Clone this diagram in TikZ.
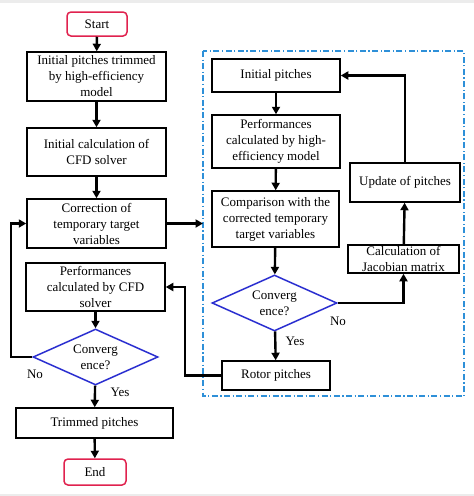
\documentclass[tikz,border=0pt]{standalone}
\usepackage{fontspec}
\setmainfont{Liberation Serif}
\usetikzlibrary{shapes.geometric,arrows.meta}
\definecolor{termred}{HTML}{E0224E}
\definecolor{decblue}{HTML}{2A2ED0}
\definecolor{dashblue}{HTML}{2E90D8}
\begin{document}
\begin{tikzpicture}[x=1pt,y=-1pt,
  txt/.style={font=\fontsize{13}{16}\selectfont},
  box/.style={txt, draw, line width=1.5pt, align=center, inner sep=1pt},
  term/.style={box, draw=termred, rounded corners=4pt},
  dec/.style={txt, diamond, draw=decblue, line width=1.5pt, aspect=2.2, inner sep=0pt, align=center, minimum width=125pt, minimum height=56pt},
  arr/.style={-{Triangle[length=7.5pt,width=8pt]}, line width=2.4pt, line join=miter},
  lbl/.style={txt, inner sep=0pt},
  dashframe/.style={draw=dashblue, line width=1.1pt, dash pattern=on 6pt off 2.5pt on 1.2pt off 2.5pt}
]
\useasboundingbox (0,0) rectangle (474,496);
\fill[gray!15] (0,0) rectangle (474,2.5);
\fill[gray!15] (0,493.5) rectangle (474,496);

% dashed frame
\draw[dashframe] (203,51) rectangle (464,396);
\coordinate (frameL) at (203,224);

% left column
\node[term, minimum width=60pt, minimum height=24pt] (start) at (97,24) {Start};
\node[box, minimum width=139pt, minimum height=49pt] (b1) at (96.5,76.5) {Initial pitches trimmed\\by high-efficiency\\model};
\node[box, minimum width=139pt, minimum height=48pt] (b2) at (96.5,152) {Initial calculation of\\CFD solver};
\node[box, minimum width=139pt, minimum height=49pt] (b3) at (96.5,223.5) {Correction of\\temporary target\\variables};
\node[box, minimum width=139pt, minimum height=48pt] (cfd) at (95.5,287) {Performances\\calculated by CFD\\solver};
\node[dec] (d1) at (95.5,357) {Converg\\ence?};
\node[box, minimum width=157pt, minimum height=30pt] (trim) at (94.5,423) {Trimmed pitches};
\node[term, minimum width=62pt, minimum height=26pt] (end) at (95,472) {End};

% right column
\node[box, minimum width=128pt, minimum height=33pt] (ip) at (276,75.5) {Initial pitches};
\node[box, minimum width=128pt, minimum height=53pt] (perf) at (276,141.5) {Performances\\calculated by high-\\efficiency model};
\node[box, minimum width=127pt, minimum height=56pt] (comp) at (275.5,219) {Comparison with the\\corrected temporary\\target variables};
\node[dec] (d2) at (274.5,303) {Converg\\ence?};
\node[box, minimum width=108pt, minimum height=29pt] (rotor) at (276,375.5) {Rotor pitches};
\node[box, minimum width=110pt, minimum height=39pt] (upd) at (405,182.5) {Update of pitches};
\node[box, minimum width=111pt, minimum height=28pt] (jac) at (403.5,259) {Calculation of\\Jacobian matrix};

% labels
\node[lbl] (no1) at (35,374) {No};
\node[lbl] (yes1) at (120,392) {Yes};
\node[lbl] (no2) at (338,321) {No};
\node[lbl] (yes2) at (295,341) {Yes};

% connectors left
\draw[arr] (start) -- (b1);
\draw[arr] (b1) -- (b2);
\draw[arr] (b2) -- (b3);
\draw[arr] (b3.east) -- (b3.east -| frameL);
\draw[arr] (cfd) -- (d1);
\draw[arr] (d1) -- (trim);
\draw[arr] (trim) -- (end);
\draw[arr] (d1.west) -- (11,357) |- (b3.west);

% connectors right
\draw[arr] (ip) -- (perf);
\draw[arr] (perf) -- (comp);
\draw[arr] (comp) -- (d2);
\draw[arr] (d2) -- (rotor);
\draw[arr] (d2.east) -| (jac.south);
\draw[arr] (jac) -- (upd);
\draw[arr] (upd.north) |- (ip.east);
\draw[arr] (rotor.west) -- (185,375.5) |- (cfd.east);
\end{tikzpicture}
\end{document}
